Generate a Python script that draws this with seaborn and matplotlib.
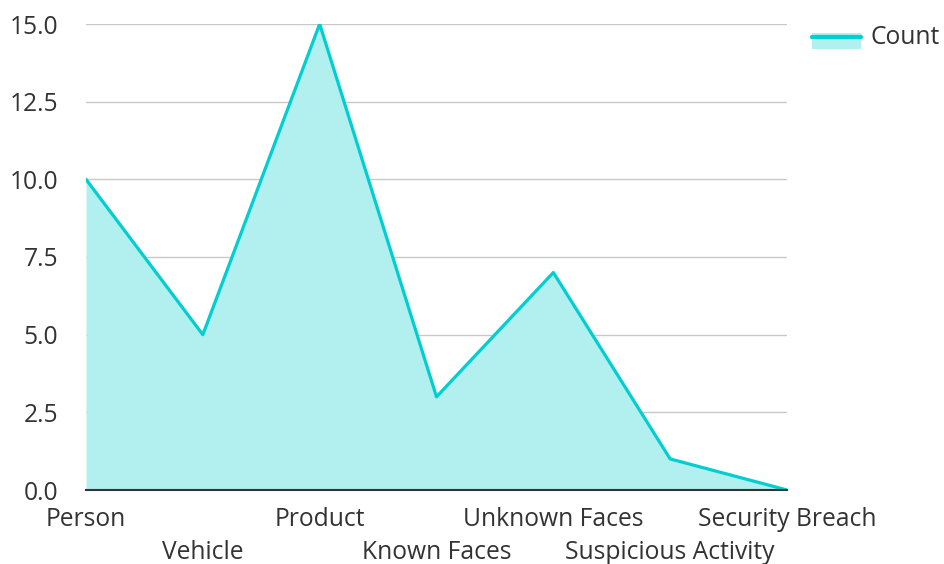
import matplotlib
matplotlib.use("Agg")
import matplotlib.pyplot as plt
import seaborn as sns
import pandas as pd
from matplotlib.patches import Rectangle
from matplotlib.lines import Line2D
from matplotlib.legend_handler import HandlerBase

categories = ["Person", "Vehicle", "Product", "Known Faces", "Unknown Faces",
              "Suspicious Activity", "Security Breach"]
counts = [10, 5, 15, 3, 7, 1, 0]
y_ticks = [0.0, 2.5, 5.0, 7.5, 10.0, 12.5, 15.0]

line_color = "#00CED1"
fill_color = "#B2EFEF"
text_color = "#333333"
FS = 17.7


class AreaHandler(HandlerBase):
    """Legend key: filled box with the line running just below its top edge."""

    def create_artists(self, legend, orig_handle, xdescent, ydescent, width, height,
                       fontsize, trans):
        y0 = -ydescent - height * 0.38
        rect = Rectangle((-xdescent, y0), width, height,
                         facecolor=fill_color, edgecolor="none", transform=trans)
        ly = y0 + height * 0.78
        line = Line2D([-xdescent, -xdescent + width], [ly, ly], color=line_color,
                      linewidth=3, transform=trans)
        return [rect, line]


sns.set_theme(style="white")
plt.rcParams["font.family"] = ["Open Sans", "DejaVu Sans"]

df = pd.DataFrame({"category": categories, "count": counts})
df["pos"] = range(len(df))

fig = plt.figure(figsize=(9.44, 5.64), dpi=100)
ax = fig.add_axes([86 / 944, (564 - 490) / 564, (787 - 86) / 944, (490 - 24) / 564])

ax.fill_between(df["pos"], df["count"], 0, color=fill_color, linewidth=0, zorder=1)
sns.lineplot(data=df, x="pos", y="count", ax=ax, color=line_color, linewidth=2.3,
             zorder=3, legend=False)

ax.set_xlim(0, len(categories) - 1)
ax.set_ylim(0, 15)
ax.set_yticks(y_ticks)
ax.set_yticklabels([f"{v:.1f}" for v in y_ticks], fontsize=FS, color=text_color)
ax.yaxis.grid(True, color="#c8c8c8", linewidth=1, zorder=0)
ax.set_axisbelow(True)
ax.set_xticks(df["pos"])
ax.set_xticklabels([])
ax.tick_params(axis="y", length=0, pad=20)
ax.tick_params(axis="x", length=0)
ax.set_xlabel("")
ax.set_ylabel("")

for s in ["top", "right", "left"]:
    ax.spines[s].set_visible(False)
ax.spines["bottom"].set_color(text_color)
ax.spines["bottom"].set_linewidth(1.5)
ax.spines["bottom"].set_zorder(4)

# Staggered category labels along the x axis
for i, name in enumerate(categories):
    offset = -0.064 if i % 2 == 0 else -0.135
    ax.text(i, offset, name, transform=ax.get_xaxis_transform(), ha="center", va="center",
            fontsize=FS, color=text_color)

leg = fig.legend([object()], ["Count"], loc="center left",
                 bbox_to_anchor=(812 / 944, 1 - 37 / 564),
                 frameon=False, fontsize=FS, handler_map={object: AreaHandler()},
                 handlelength=2.0, handleheight=0.65, handletextpad=0.4,
                 borderaxespad=0, borderpad=0)
for t in leg.get_texts():
    t.set_color(text_color)

fig.savefig("out.png", dpi=100)
